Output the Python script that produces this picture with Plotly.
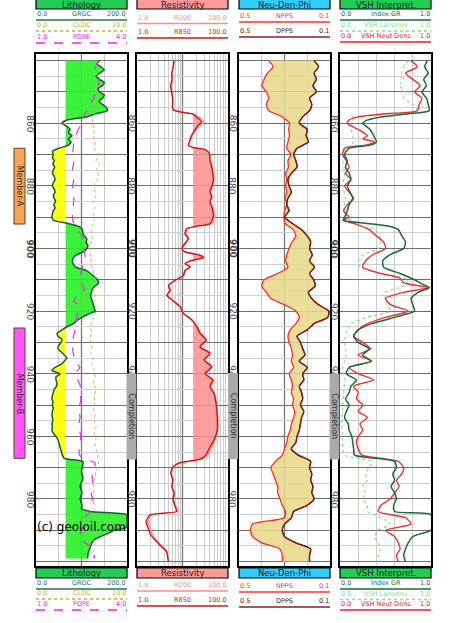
import plotly.graph_objects as go

W, H = 474, 623
def fx(x): return x / W
def fy(y): return 1 - y / H

TR = [(36, 127), (137, 228), (239, 330), (340, 431)]
TOP, BOT = 54, 566
YR = [1001.4, 837.9]

# ---------------- data ----------------
GR_PTS = [(840,140),(841,134),(842,143),(843,150),(844,140),(845,132),(846,140),(847,150),(848,146),(849,136),
 (850,140),(851,150),(852,146),(853,138),(854,146),(855,155),(856,157),(857,131),(858,111),(859,68),
 (860,57),(861,68),(862,75),(863,71),(864,79),(865,71),(866,77),(867,71),(868,50),(869,36),
 (870,38),(871,36),(872,40),(873,37),(874,41),(875,38),(876,36),(877,40),(878,42),(879,38),
 (880,36),(881,40),(882,42),(883,38),(884,40),(885,43),(886,39),(887,42),(888,38),(889,36),
 (890,35),(891,38),(892,70),(893,95),(894,102),(895,103),(896,106),(897,112),(898,110),(899,114),
 (900,112),(901,105),(902,90),(903,82),(904,80),(905,82),(906,88),(907,110),(908,120),(909,128),
 (910,135),(911,138),(912,130),(913,124),(914,122),(915,120),(916,122),(917,124),(918,126),(919,128),
 (920,130),(921,114),(922,101),(923,90),(924,82),(925,68),(926,57),(927,47),(928,48),(929,57),
 (930,55),(931,50),(932,48),(933,55),(934,62),(935,68),(936,62),(937,55),(938,42),(939,35),
 (940,53),(941,44),(942,44),(943,46),(944,45),(945,40),(946,38),(947,36),(948,35),(949,37),
 (950,36),(951,38),(952,36),(953,35),(954,36),(955,37),(956,35),(957,36),(958,35),(959,38),
 (960,44),(961,48),(962,50),(963,52),(964,54),(965,56),(966,58),(967,62),(968,103),(969,103),
 (970,102),(971,100),(972,101),(973,103),(974,102),(975,99),(976,97),(977,99),(978,101),(979,99),
 (980,97),(981,99),(982,101),(983,100),(984,119),(985,200),(986,200),(987,200),(988,200),(989,200),
 (990,172),(991,158),(992,142),(993,128),(994,123),(995,120),(996,118),(997,115),(998,114),(999,113)]

CLDC_PTS = [(840,6.6),(843,6.8),(846,6.5),(849,6.7),(852,6.4),(855,6.6),(858,6.3),(860,6.2),(862,6.4),(864,6.3),
 (866,6.5),(868,6.4),(870,6.9),(872,6.6),(873,7.0),(875,6.6),(877,6.9),(879,6.5),(881,6.4),(883,6.6),
 (885,6.3),(887,6.5),(889,6.3),(891,6.4),(893,6.2),(895,6.1),(897,6.2),(899,6.0),(901,5.9),(903,6.1),
 (905,6.0),(907,6.3),(909,6.5),(911,6.4),(913,6.3),(915,6.5),(917,6.4),(919,6.6),(921,6.5),(923,6.2),
 (925,6.0),(927,6.1),(929,5.9),(931,6.2),(933,6.0),(935,6.3),(937,6.1),(939,6.4),(941,6.5),(943,6.3),
 (945,6.6),(947,6.4),(949,6.5),(951,6.3),(953,6.5),(955,6.4),(957,6.6),(959,6.4),(961,6.6),(963,6.5),
 (965,6.7),(967,6.8),(969,6.9),(971,6.6),(973,6.5),(975,6.3),(977,6.4),(979,6.2),(981,6.3),(983,6.4),
 (985,6.4),(987,6.3),(989,6.5),(991,6.4),(993,6.3),(995,6.4),(997,6.3),(999,6.4)]

PDPE_PTS = [(840,3.05),(843,2.95),(846,3.1),(849,3.0),(852,2.9),(855,2.75),(858,2.55),(860,2.5),(863,2.35),(866,2.25),
 (869,2.22),(872,2.25),(875,2.2),(878,2.24),(881,2.2),(884,2.25),(887,2.22),(890,2.2),(892,2.25),(894,2.38),
 (896,2.5),(898,2.55),(901,2.6),(903,2.62),(905,2.56),(907,2.5),(909,2.45),(911,2.5),(913,2.6),(915,2.35),
 (917,2.25),(918,2.38),(921,2.36),(925,2.3),(928,2.24),(930,2.18),(933,2.22),(936,2.28),(938,2.45),(940,2.28),
 (942,2.38),(944,2.46),(946,2.42),(948,2.48),(951,2.42),(954,2.45),(957,2.4),(960,2.48),(963,2.42),(966,2.44),
 (967,2.55),(968.5,2.95),(970,2.92),(972,2.84),(975,2.88),(978,2.82),(980,2.86),(982,2.8),(984,2.78),(986,2.62),
 (988,2.6),(991,2.45),(993,2.5),(995,2.76),(997,2.95),(999,2.9)]

R850_PTS = [(840,6.5),(842,6.3),(844,5.8),(846,5.9),(848,5.5),(850.5,5.8),(852.7,6.1),(854.8,6.0),(855.8,6.3),(856.4,8.8),
 (857.1,17),(858,20.5),(859.6,26.5),(860.6,22.3),(862.2,18.8),(863.8,15.9),(865.4,14.6),(867,13.4),(867.8,17),(868.4,31.2),
 (869.7,38.9),(871.8,40),(873.9,43.8),(876.1,46),(878.2,47.5),(880.3,43.8),(881.9,40),(883.5,43.8),(885.1,40),(886.7,43.8),
 (888.9,47.5),(890.5,46),(892.1,40),(892.9,20.5),(893.7,12.4),(895.3,11.3),(896.8,13.4),(898.4,11.3),(900,9.6),(901.1,11.3),
 (902.2,24.2),(902.9,28.7),(903.8,15.9),(904.8,11.3),(905.9,14.6),(907,11.3),(908.6,10.4),(910.2,6.8),(911.8,4.9),(913.4,5.3),
 (915,4.5),(916.5,6.0),(918.6,8.8),(920.7,10.4),(922.8,15.9),(925,20.5),(927.1,24.2),(929.2,32.9),(931.4,24.2),(933.5,40),
 (935.6,29.7),(937.8,43.8),(939.9,31.2),(942,46),(944.1,40),(946.3,49.2),(949.5,54.5),(953.7,58),(958,58),(961.2,49.2),
 (963.8,38.9),(966,32.9),(967.3,24.2),(968.4,8.8),(969.6,6.3),(971.7,5.5),(973.9,6.1),(976,5.8),(978.1,6.5),(980.3,6.2),
 (982.4,6.9),(984,7.4),(985.1,1.93),(987.3,1.58),(989.4,1.77),(991.5,2.0),(993.1,2.5),(995.3,3.5),(996.9,4.5),(998.5,4.7),(1000,4.9)]

R200_PTS = [(840,6.6),(842,6.2),(844,5.9),(846,6.0),(848,5.6),(850.5,5.9),(852.7,6.2),(854.8,6.1),(855.8,6.4),(856.4,9.5),
 (857.1,18),(858,22.5),(859.6,30),(860.6,25),(862.2,19.5),(863.8,16.5),(865.4,15),(867,13.8),(867.8,18),(868.4,32),
 (869.7,40),(871.8,42),(873.9,45),(876.1,48),(878.2,49),(880.3,46),(881.9,42),(883.5,45),(885.1,42),(886.7,46),
 (888.9,50),(890.5,50),(892.1,43),(892.9,22),(893.7,13),(895.3,11.8),(896.8,13.8),(898.4,11.8),(900,10),(901.1,11.8),
 (902.2,25),(902.9,30),(903.8,16.5),(904.8,11.8),(905.9,15),(907,11.8),(908.6,10.8),(910.2,7.0),(911.8,5.1),(913.4,5.5),
 (915,4.7),(916.5,6.2),(918.6,9.1),(920.7,10.8),(922.8,16.5),(925,21.5),(927.1,25.5),(929.2,34),(931.4,25.5),(933.5,42),
 (935.6,31),(937.8,45),(939.9,33),(942,48),(944.1,42),(946.3,51),(949.5,56),(953.7,60),(958,60),(961.2,52),
 (963.8,42),(966,36),(967.3,27),(968.4,9.5),(969.6,6.5),(971.7,5.7),(973.9,6.3),(976,6.0),(978.1,6.7),(980.3,6.4),
 (982.4,7.2),(984,7.8),(985.1,2.1),(987.3,1.75),(989.4,1.95),(991.5,2.2),(993.1,2.65),(995.3,3.7),(996.9,4.6),(998.5,4.8),(1000,5.0)]

# depth, NPPS, DPPS
NDP_PTS = [(840,0.37,0.17),(842,0.35,0.15),(844,0.375,0.17),(846,0.39,0.16),(848,0.40,0.175),(850,0.38,0.16),
 (852,0.37,0.19),(854,0.38,0.18),(856,0.37,0.19),(858,0.31,0.22),(860,0.278,0.235),(862,0.282,0.20),
 (864,0.278,0.205),(866,0.285,0.195),(868,0.29,0.245),(870,0.272,0.26),(872,0.285,0.25),(874,0.283,0.245),
 (876,0.295,0.27),(878,0.29,0.285),(880,0.295,0.28),(882,0.29,0.27),(884,0.297,0.285),(886,0.29,0.29),
 (888,0.30,0.28),(890,0.302,0.30),(892,0.298,0.265),(894,0.262,0.225),(896,0.25,0.20),(898,0.268,0.185),
 (900,0.28,0.19),(902,0.29,0.178),(904,0.295,0.19),(906,0.285,0.168),(908,0.33,0.19),(910,0.39,0.172),
 (912,0.40,0.165),(914,0.38,0.195),(916,0.36,0.18),(918,0.30,0.15),(920,0.25,0.105),(922,0.235,0.11),
 (924,0.25,0.17),(926,0.275,0.20),(928,0.285,0.245),(930,0.28,0.23),(932,0.27,0.22),(934,0.265,0.21),
 (936,0.27,0.235),(938,0.26,0.20),(940,0.28,0.22),(942,0.27,0.215),(944,0.265,0.235),(946,0.27,0.225),
 (948,0.26,0.22),(950,0.265,0.23),(952,0.255,0.215),(954,0.26,0.225),(956,0.27,0.23),(958,0.275,0.235),
 (960,0.285,0.245),(962,0.29,0.25),(964,0.30,0.27),(966,0.31,0.24),(968,0.34,0.185),(970,0.36,0.19),
 (972,0.35,0.18),(974,0.34,0.185),(976,0.33,0.175),(978,0.33,0.18),(980,0.32,0.17),(982,0.31,0.20),
 (984,0.295,0.26),(986,0.30,0.27),(988,0.44,0.30),(990,0.45,0.31),(992,0.44,0.30),(994,0.40,0.25),
 (996,0.32,0.185),(998,0.31,0.19),(1000,0.31,0.19)]

IGR_PTS = [(840,0.96),(842,0.93),(844,0.97),(846,0.92),(848,0.95),(850,0.90),(852,0.95),(854,0.97),(856,0.98),(857,0.75),
 (858,0.45),(859,0.30),(860,0.25),(862,0.33),(864,0.37),(866,0.40),(867,0.33),(868,0.10),(870,0.05),(872,0.08),
 (874,0.06),(876,0.10),(878,0.12),(880,0.08),(882,0.11),(884,0.14),(886,0.10),(888,0.08),(890,0.05),(891,0.04),
 (892,0.30),(893,0.55),(894,0.64),(896,0.68),(898,0.72),(900,0.70),(902,0.55),(904,0.47),(906,0.48),(908,0.66),
 (910,0.82),(911,0.88),(912.5,0.98),(914,0.86),(916,0.78),(918,0.80),(920,0.82),(921,0.72),(922,0.60),(924,0.35),
 (926,0.20),(928,0.15),(930,0.20),(932,0.32),(934,0.25),(936,0.34),(938,0.10),(940,0.07),(942,0.18),(944,0.12),
 (946,0.10),(948,0.06),(950,0.10),(952,0.07),(954,0.05),(956,0.09),(958,0.10),(960,0.13),(962,0.14),(964,0.15),
 (966,0.16),(967,0.40),(968,0.60),(970,0.62),(972,0.58),(974,0.60),(976,0.56),(978,0.60),(980,0.62),(982,0.59),
 (984,0.60),(985,1.0),(990,1.0),(991,0.90),(992,0.80),(994,0.75),(996,0.72),(998,0.70),(1000,0.72)]

VSHND_PTS = [(840,0.78),(842,0.85),(844,0.72),(846,0.80),(848,0.88),(850,0.82),(852,0.90),(854,0.87),(856,0.85),(857,0.50),
 (858,0.20),(859,0.10),(860,0.08),(862,0.20),(864,0.30),(865,0.25),(866,0.38),(867,0.28),(868,0.05),(870,0.03),
 (872,0.07),(874,0.10),(876,0.06),(878,0.12),(880,0.05),(882,0.10),(884,0.15),(886,0.08),(888,0.04),(890,0.10),
 (891,0.03),(892,0.15),(894,0.32),(896,0.40),(898,0.48),(900,0.50),(902,0.36),(904,0.28),(906,0.25),(908,0.45),
 (909.5,0.66),(911,0.70),(912.5,0.98),(914,0.70),(916,0.50),(918,0.56),(920,0.75),(922,0.50),(924,0.30),(926,0.20),
 (928,0.15),(930,0.25),(932,0.34),(934,0.20),(936,0.35),(938,0.10),(940,0.20),(942,0.37),(944,0.15),(946,0.20),
 (948,0.18),(950,0.25),(952,0.20),(954,0.30),(956,0.22),(958,0.25),(960,0.20),(962,0.18),(964,0.20),(966,0.24),
 (967,0.45),(968,0.64),(970,0.70),(972,0.68),(974,0.62),(976,0.65),(978,0.60),(980,0.55),(982,0.45),(984,0.42),
 (986,0.72),(988,0.78),(990,0.50),(992,0.60),(994,0.64),(996,0.66),(998,0.62),(1000,0.64)]

VSHL_PTS = [(840,0.75),(842,0.70),(844,0.68),(846,0.70),(848,0.65),(850,0.72),(852,0.70),(854,0.80),(856,0.85),(857,0.50),
 (858,0.15),(859,0.10),(860,0.08),(862,0.12),(864,0.14),(866,0.15),(868,0.06),(870,0.04),(872,0.03),(876,0.05),
 (880,0.03),(884,0.06),(888,0.04),(892,0.15),(894,0.38),(896,0.44),(898,0.45),(900,0.42),(902,0.25),(904,0.20),
 (906,0.22),(908,0.45),(910,0.75),(912,0.70),(914,0.50),(916,0.50),(918,0.52),(920,0.55),(922,0.30),(924,0.12),
 (926,0.08),(930,0.05),(934,0.07),(938,0.03),(942,0.05),(946,0.04),(950,0.03),(956,0.02),(962,0.03),(966,0.05),
 (967,0.20),(968,0.35),(970,0.32),(972,0.28),(974,0.30),(976,0.25),(978,0.28),(980,0.25),(982,0.30),(984,0.30),
 (986,0.45),(988,0.55),(990,0.42),(992,0.38),(994,0.42),(996,0.44),(998,0.42),(1000,0.40)]

GR_CUT = 65
RES_CUT = 17
DEPTH_LABELS = [860, 880, 900, 920, 940, 960, 980]
ZONES = [("Member-A", 868.0, 892.2, "#f6a456"), ("Member-B", 925.4, 967.0, "#ff55ff")]
COMPLETION = (940.0, 967.0)

# ---------------- build ----------------
def unz(p):
    return [a[0] for a in p], [a[1] for a in p]

fig = go.Figure()
SPL = dict(shape="spline", smoothing=0.6)

def add(x, y, xa, ya, color, width=1.3, dash="solid", fill=None, fillcolor=None):
    fig.add_trace(go.Scatter(x=x, y=y, xaxis=xa, yaxis=ya, mode="lines",
                             line=dict(color=color, width=width, dash=dash, **SPL),
                             fill=fill, fillcolor=fillcolor, hoverinfo="skip", showlegend=False))

# track 1
gd, gv = unz(GR_PTS)
add([GR_CUT]*len(gd), gd, "x", "y", "rgba(0,0,0,0)", 0)
add([max(v, GR_CUT) for v in gv], gd, "x", "y", "rgba(0,0,0,0)", 0, fill="tonextx", fillcolor="rgba(40,240,40,0.9)")
add([GR_CUT]*len(gd), gd, "x", "y", "rgba(0,0,0,0)", 0)
add([min(v, GR_CUT) for v in gv], gd, "x", "y", "rgba(0,0,0,0)", 0, fill="tonextx", fillcolor="rgba(255,255,0,0.92)")
cd, cv = unz(CLDC_PTS)
add(cv, cd, "x5", "y", "#c8b266", 1.0, "dot")
pd_, pv = unz(PDPE_PTS)
add(pv, pd_, "x6", "y", "#e830e8", 1.2, "dash")
add(gv, gd, "x", "y", "#1d5a2c", 1.5)

# track 2
rd, rv = unz(R850_PTS)
add([RES_CUT]*len(rd), rd, "x2", "y2", "rgba(0,0,0,0)", 0)
add([max(v, RES_CUT) for v in rv], rd, "x2", "y2", "rgba(0,0,0,0)", 0, fill="tonextx", fillcolor="rgba(255,140,140,0.82)")
r2d, r2v = unz(R200_PTS)
add(r2v, r2d, "x2", "y2", "#ff8888", 1.3)
add(rv, rd, "x2", "y2", "#cc1010", 1.3)

# track 3
nd = [a[0] for a in NDP_PTS]
nn = [a[1] for a in NDP_PTS]
ddp = [a[2] for a in NDP_PTS]
add(ddp, nd, "x3", "y3", "#8b2020", 1.3)
add(nn, nd, "x3", "y3", "#ff2a2a", 1.3, fill="tonextx", fillcolor="rgba(232,218,140,0.88)")
add(ddp, nd, "x3", "y3", "#7a1c1c", 1.3)

# track 4
ld, lv = unz(VSHL_PTS)
add(lv, ld, "x4", "y4", "#88e088", 1.2, "dot")
vd, vv = unz(VSHND_PTS)
add(vv, vd, "x4", "y4", "#f03030", 1.4)
idd, iv = unz(IGR_PTS)
add(iv, idd, "x4", "y4", "#1a6a38", 1.5)

# ---------------- axes ----------------
ydom = [fy(BOT), fy(TOP)]
def xax(i, **kw):
    d = dict(domain=[fx(TR[i][0]), fx(TR[i][1])], showgrid=True, gridcolor="#cccccc", gridwidth=1,
             showline=True, mirror=True, linecolor="black", linewidth=1.6, showticklabels=False,
             ticks="", zeroline=False, anchor="y" if i == 0 else "y%d" % (i+1), fixedrange=True)
    d.update(kw)
    return d

def yax(i):
    d = dict(domain=ydom, range=YR, tickvals=list(range(840, 1001, 10)), gridcolor="#6e6e6e", gridwidth=1.3,
             minor=dict(tickvals=list(range(845, 1000, 10)), showgrid=True, gridcolor="#cfcfcf", gridwidth=1),
             showticklabels=False, ticks="", showline=True, mirror=True, linecolor="black", linewidth=1.6,
             zeroline=False, anchor="x" if i == 0 else "x%d" % (i+1), fixedrange=True)
    if i > 0:
        d["matches"] = "y"
    return d

layout = dict(width=W, height=H, margin=dict(l=0, r=0, t=0, b=0), paper_bgcolor="white",
              plot_bgcolor="rgba(0,0,0,0)", showlegend=False, hovermode=False,
              font=dict(family="DejaVu Sans", size=8, color="#333"))
layout["xaxis"] = xax(0, range=[0, 200], tickvals=[50, 150])
layout["xaxis2"] = xax(1, type="log", range=[0, 2], tickvals=[2,3,4,5,6,7,8,9,20,30,40,50,60,70,80,90])
layout["xaxis3"] = xax(2, range=[0.5, 0.1], tickvals=[0.4, 0.2])
layout["xaxis4"] = xax(3, range=[0, 1], tickvals=[0.2, 0.4, 0.6, 0.8])
layout["xaxis5"] = dict(overlaying="x", range=[0, 10], visible=False, anchor="y")
layout["xaxis6"] = dict(overlaying="x", range=[1, 4], visible=False, anchor="y")
for i in range(4):
    layout["yaxis" if i == 0 else "yaxis%d" % (i+1)] = yax(i)
fig.update_layout(**layout)

shapes = []
annos = []
# darker centre lines
for i in range(3):
    cx = (TR[i][0] + TR[i][1]) / 2
    shapes.append(dict(type="line", xref="paper", yref="paper", x0=fx(cx), x1=fx(cx), y0=fy(BOT), y1=fy(TOP),
                       line=dict(color="#777777", width=1.3), layer="below"))

def dep_y(d):
    return TOP + (d - YR[1]) / (YR[0] - YR[1]) * (BOT - TOP)

# headers
HEAD = [("Lithology", "#22cc55"), ("Resistivity", "#ff9a9a"), ("Neu-Den-Phi", "#33ccff"), ("VSH Interpret.", "#22cc55")]
for i, (t, c) in enumerate(HEAD):
    x0, x1 = TR[i]
    for (y0, y1) in [(-3, 9), (568, 578)]:
        shapes.append(dict(type="rect", xref="paper", yref="paper", x0=fx(x0), x1=fx(x1), y0=fy(y1), y1=fy(y0),
                           fillcolor=c, line=dict(color="black", width=1.2)))
        annos.append(dict(text=t, x=fx((x0+x1)/2), y=fy((max(y0, 0)+y1)/2), xref="paper", yref="paper",
                          showarrow=False, font=dict(size=8.5, color="#1a1a2a"), xanchor="center", yanchor="middle",
                          borderpad=0))

# curve legends: (track, label, left, right, color, dash, top_y, bottom_y)
LEG = [(0, "GRGC", "0.0", "200.0", "#2e7050", "solid", 20, 589),
       (0, "CLDC", "0.0", "10.0", "#c8b040", "dot", 31, 599),
       (0, "PDPE", "1.0", "4.0", "#ee22ee", "dash", 43, 610),
       (1, "R200", "1.0", "100.0", "#ff8888", "solid", 23.5, 591),
       (1, "R850", "1.0", "100.0", "#cc1818", "solid", 38, 606),
       (2, "NPPS", "0.5", "0.1", "#ff3030", "solid", 22, 592),
       (2, "DPPS", "0.5", "0.1", "#8b2020", "solid", 37, 607),
       (3, "Index GR", "0.0", "1.0", "#1a6a38", "solid", 20, 589),
       (3, "VSH Larionov", "0.0", "1.0", "#88dd88", "dot", 31, 599.5),
       (3, "VSH Neut Dens", "0.0", "1.0", "#ee2020", "solid", 42, 610)]
for (i, lab, lo, hi, c, dash, yt, yb) in LEG:
    x0, x1 = TR[i]
    tc = c if c not in ("#8b2020",) else "#5a1010"
    for yl in (yt, yb):
        shapes.append(dict(type="line", xref="paper", yref="paper", x0=fx(x0), x1=fx(x1), y0=fy(yl), y1=fy(yl),
                           line=dict(color=c, width=1.5, dash=dash)))
        for txt, xx, an in [(lo, x0, "left"), (lab, (x0+x1)/2, "center"), (hi, x1, "right")]:
            annos.append(dict(text=txt, x=fx(xx), y=fy(yl - 0.8), xref="paper", yref="paper", showarrow=False,
                              font=dict(size=6.5, color=tc), xanchor=an, yanchor="bottom", borderpad=0))

# depth labels
for xc in (30, 131.5, 232.5, 334):
    for d in DEPTH_LABELS:
        t = "<b>%d</b>" % d if d == 900 else "%d" % d
        annos.append(dict(text=t, x=fx(xc), y=fy(dep_y(d)), xref="paper", yref="paper", showarrow=False,
                          textangle=90, font=dict(size=9, color="#444"), xanchor="center", yanchor="middle"))

# zones
for (name, d0, d1, c) in ZONES:
    y0, y1 = dep_y(d0), dep_y(d1)
    shapes.append(dict(type="rect", xref="paper", yref="paper", x0=fx(14), x1=fx(25), y0=fy(y1), y1=fy(y0),
                       fillcolor=c, line=dict(color="#6a3a20", width=1)))
    annos.append(dict(text=name, x=fx(19.5), y=fy((y0+y1)/2), xref="paper", yref="paper", showarrow=False,
                      textangle=90, font=dict(size=8, color="#333"), xanchor="center", yanchor="middle"))

# completion boxes
c0, c1 = dep_y(COMPLETION[0]), dep_y(COMPLETION[1])
for xc in (132, 233.5, 335):
    annos.append(dict(text="Completion", x=fx(xc), y=fy((c0+c1)/2), xref="paper", yref="paper", showarrow=False,
                      textangle=90, font=dict(size=8, color="#333"), bgcolor="#aaaaaa",
                      width=c1-c0, height=9, borderpad=0, xanchor="center", yanchor="middle"))

annos.append(dict(text="(c) geoloil.com", x=fx(81), y=fy(527), xref="paper", yref="paper", showarrow=False,
                  font=dict(size=12, color="black"), xanchor="center", yanchor="middle"))

fig.update_layout(shapes=shapes, annotations=annos)
fig.write_html("out.html", config={"displayModeBar": False})
